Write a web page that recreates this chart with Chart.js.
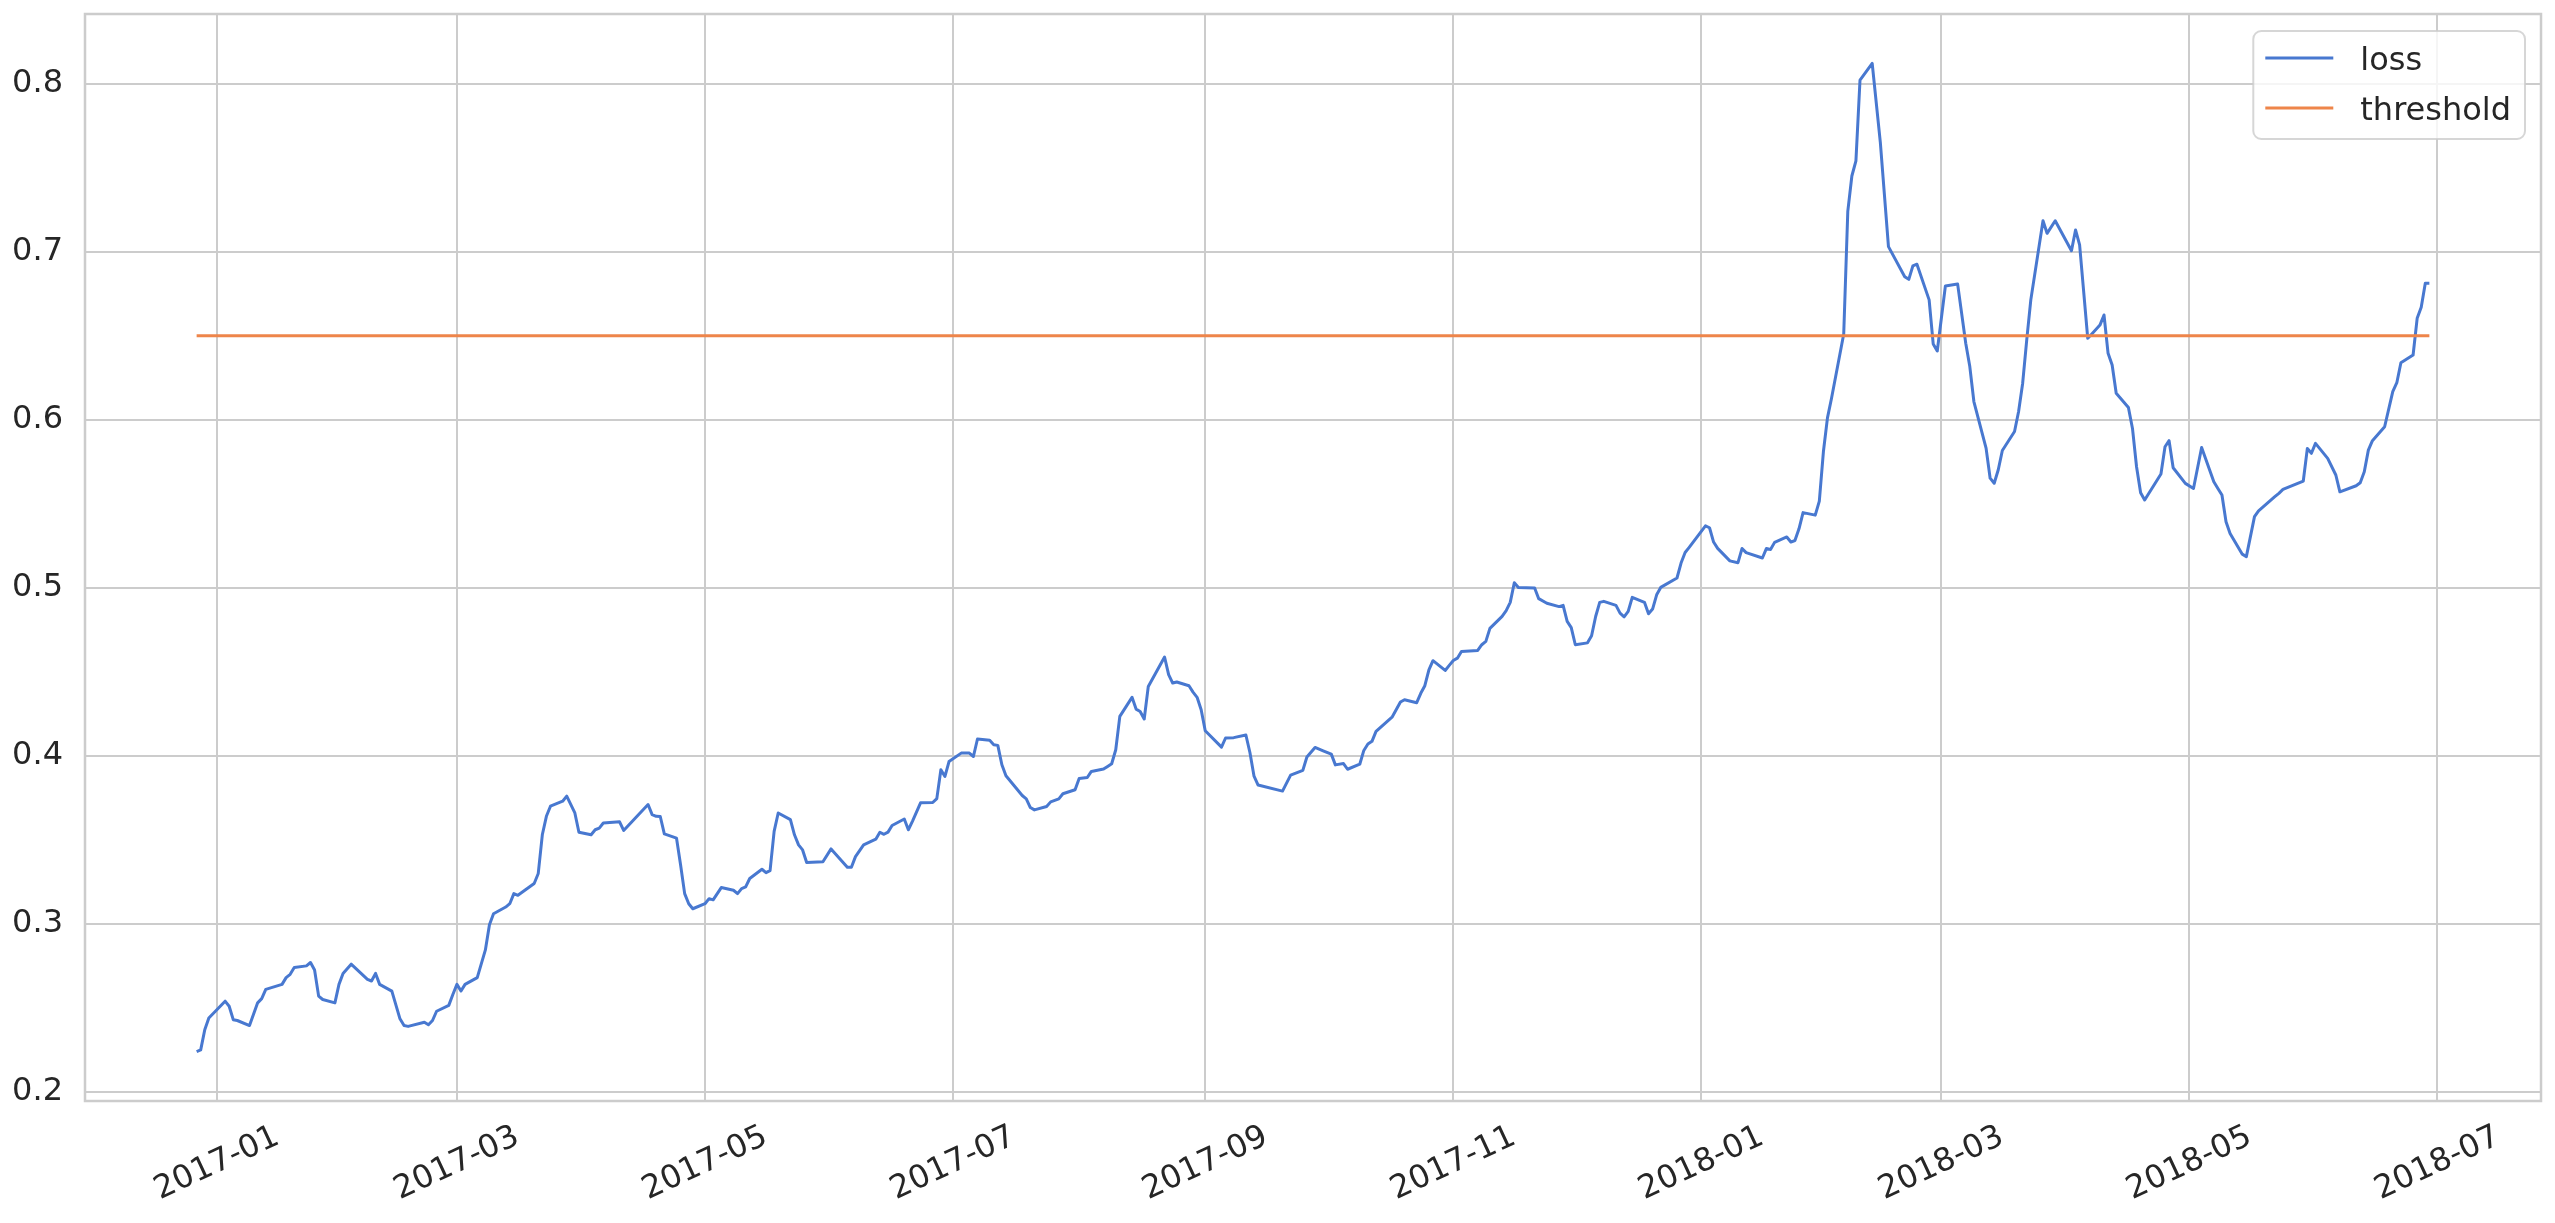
<!DOCTYPE html>
<html>
<head>
<meta charset="utf-8">
<script src="https://cdn.jsdelivr.net/npm/chart.js@4.4.1/dist/chart.umd.min.js"></script>
<style>
html,body{margin:0;padding:0;background:#ffffff;overflow:hidden}
canvas{display:block}
</style>
</head>
<body>
<canvas id="c" width="2555" height="1223" style="width:2555px;height:1223px"></canvas>
<script>
// ---- data ----
const dates = [
'2016-12-27','2016-12-28','2016-12-29','2016-12-30',
'2017-01-03','2017-01-04','2017-01-05','2017-01-06','2017-01-09','2017-01-11','2017-01-12','2017-01-13','2017-01-17','2017-01-18','2017-01-19','2017-01-20','2017-01-23','2017-01-24','2017-01-25','2017-01-26','2017-01-27','2017-01-30','2017-01-31',
'2017-02-01','2017-02-03','2017-02-07','2017-02-08','2017-02-09','2017-02-10','2017-02-13','2017-02-15','2017-02-16','2017-02-17','2017-02-21','2017-02-22','2017-02-23','2017-02-24','2017-02-27','2017-02-28',
'2017-03-01','2017-03-02','2017-03-03','2017-03-06','2017-03-08','2017-03-09','2017-03-10','2017-03-13','2017-03-14','2017-03-15','2017-03-16','2017-03-20','2017-03-21','2017-03-22','2017-03-23','2017-03-24','2017-03-27','2017-03-28','2017-03-30','2017-03-31',
'2017-04-03','2017-04-04','2017-04-05','2017-04-06','2017-04-10','2017-04-11','2017-04-17','2017-04-18','2017-04-19','2017-04-20','2017-04-21','2017-04-24','2017-04-25','2017-04-26','2017-04-27','2017-04-28',
'2017-05-01','2017-05-02','2017-05-03','2017-05-05','2017-05-08','2017-05-09','2017-05-10','2017-05-11','2017-05-12','2017-05-15','2017-05-16','2017-05-17','2017-05-18','2017-05-19','2017-05-22','2017-05-23','2017-05-24','2017-05-25','2017-05-26','2017-05-30',
'2017-06-01','2017-06-05','2017-06-06','2017-06-07','2017-06-09','2017-06-12','2017-06-13','2017-06-14','2017-06-15','2017-06-16','2017-06-19','2017-06-20','2017-06-21','2017-06-23','2017-06-26','2017-06-27','2017-06-28','2017-06-29','2017-06-30',
'2017-07-03','2017-07-05','2017-07-06','2017-07-07','2017-07-10','2017-07-11','2017-07-12','2017-07-13','2017-07-14','2017-07-18','2017-07-19','2017-07-20','2017-07-21','2017-07-24','2017-07-25','2017-07-27','2017-07-28','2017-07-31',
'2017-08-01','2017-08-03','2017-08-04','2017-08-07','2017-08-08','2017-08-09','2017-08-10','2017-08-11','2017-08-14','2017-08-15','2017-08-16','2017-08-17','2017-08-18','2017-08-22','2017-08-23','2017-08-24','2017-08-25','2017-08-28','2017-08-29','2017-08-30','2017-08-31',
'2017-09-01','2017-09-05','2017-09-06','2017-09-08','2017-09-11','2017-09-12','2017-09-13','2017-09-14','2017-09-20','2017-09-22','2017-09-25','2017-09-26','2017-09-28','2017-09-30',
'2017-10-02','2017-10-03','2017-10-05','2017-10-06','2017-10-09','2017-10-10','2017-10-11','2017-10-12','2017-10-13','2017-10-17','2017-10-19','2017-10-20','2017-10-23','2017-10-24','2017-10-25','2017-10-26','2017-10-27','2017-10-30','2017-10-31',
'2017-11-01','2017-11-02','2017-11-03','2017-11-07','2017-11-08','2017-11-09','2017-11-10','2017-11-13','2017-11-14','2017-11-15','2017-11-16','2017-11-17','2017-11-21','2017-11-22','2017-11-24','2017-11-27','2017-11-28','2017-11-29','2017-11-30',
'2017-12-01','2017-12-04','2017-12-05','2017-12-06','2017-12-07','2017-12-08','2017-12-11','2017-12-12','2017-12-13','2017-12-14','2017-12-15','2017-12-18','2017-12-19','2017-12-20','2017-12-21','2017-12-22','2017-12-26','2017-12-27','2017-12-28','2017-12-29',
'2018-01-02','2018-01-03','2018-01-04','2018-01-05','2018-01-08','2018-01-10','2018-01-11','2018-01-12','2018-01-16','2018-01-17','2018-01-18','2018-01-19','2018-01-22','2018-01-23','2018-01-24','2018-01-25','2018-01-26','2018-01-29','2018-01-30','2018-01-31',
'2018-02-01','2018-02-02','2018-02-05','2018-02-06','2018-02-07','2018-02-08','2018-02-09','2018-02-12','2018-02-14','2018-02-16','2018-02-20','2018-02-21','2018-02-22','2018-02-23','2018-02-26','2018-02-27','2018-02-28',
'2018-03-02','2018-03-05','2018-03-07','2018-03-08','2018-03-09','2018-03-12','2018-03-13','2018-03-14','2018-03-15','2018-03-16','2018-03-19','2018-03-20','2018-03-21','2018-03-22','2018-03-23','2018-03-26','2018-03-27','2018-03-29',
'2018-04-02','2018-04-03','2018-04-04','2018-04-06','2018-04-07','2018-04-09','2018-04-10','2018-04-11','2018-04-12','2018-04-13','2018-04-16','2018-04-17','2018-04-18','2018-04-19','2018-04-20','2018-04-24','2018-04-25','2018-04-26','2018-04-27','2018-04-30',
'2018-05-02','2018-05-04','2018-05-07','2018-05-08','2018-05-09','2018-05-10','2018-05-11','2018-05-14','2018-05-15','2018-05-17','2018-05-18','2018-05-22','2018-05-23','2018-05-24','2018-05-29','2018-05-30','2018-05-31',
'2018-06-01','2018-06-04','2018-06-06','2018-06-07','2018-06-11','2018-06-12','2018-06-13','2018-06-14','2018-06-15','2018-06-18','2018-06-20','2018-06-21','2018-06-22','2018-06-25','2018-06-26','2018-06-27','2018-06-28','2018-06-29'
];
const loss = [
.224,.225,.237,.244,
.254,.251,.243,.2425,.2395,.253,.2555,.261,.264,.268,.270,.274,.275,.277,.2725,.257,.255,.253,.264,
.2705,.276,.267,.266,.2705,.264,.260,.2435,.2395,.239,.2415,.240,.2425,.248,.2515,.258,
.264,.260,.264,.268,.2845,.2995,.306,.310,.312,.318,.317,.324,.330,.353,.364,.370,.373,.376,.366,.3545,
.353,.356,.357,.360,.3607,.3556,.371,.365,.364,.3639,.3535,.351,.335,.318,.312,.309,
.312,.315,.3143,.3216,.320,.318,.321,.322,.327,.3325,.3305,.3317,.355,.366,.362,.353,.347,.344,.3365,.337,
.3446,.3337,.3337,.340,.347,.3504,.3545,.3533,.3546,.3585,.3624,.356,.361,.372,.3722,.3745,.3917,.3877,.3966,
.4016,.4016,.3996,.410,.4092,.4066,.4062,.3947,.3881,.3764,.3744,.3692,.3678,.3698,.3726,.3744,.3774,.3798,
.3865,.3871,.3907,.3921,.3937,.3953,.4036,.4235,.4348,.4278,.4264,.4219,.4413,.4588,.4483,.4433,.4439,.4417,.4379,.4348,.4274,
.4149,.4052,.4106,.4108,.4124,.4018,.3879,.3826,.379,.3885,.3913,.3993,.405,.403,
.401,.3946,.3954,.392,.395,.4032,.407,.4086,.4145,.4232,.432,.4334,.4316,.4372,.4417,.4512,.4566,.4508,.4538,
.4567,.4581,.4621,.4627,.4661,.4681,.4758,.483,.4864,.4913,.503,.5002,.4999,.4935,.4908,.4888,.4895,.480,.4763,
.4661,.4672,.4714,.4829,.4913,.4919,.4895,.4849,.4827,.4859,.4943,.4913,.4845,.4873,.4958,.5002,.5058,.5147,.521,.524,
.5368,.5357,.5272,.5234,.516,.5149,.5234,.5209,.5177,.5234,.5228,.527,.5302,.5272,.5281,.5351,.5447,.5432,.5515,.5809,
.6011,.6128,.651,.724,.745,.754,.802,.812,.765,.703,.6851,.6835,.6915,.6925,.6713,.6451,.6409,
.6796,.6808,.6455,.6316,.6108,.5831,.5652,.5622,.5702,.5817,.593,.6049,.6217,.6475,.6713,.7184,.7109,.7184,
.7005,.7129,.704,.6484,.651,.6563,.6623,.6395,.6325,.6157,.6073,.5948,.572,.5565,.5522,.5677,.5839,.5875,.5714,.5621,
.5591,.5835,.5631,.5591,.5552,.5393,.5323,.520,.5185,.5423,.5458,.5542,.5562,.5585,.5635,.5829,.580,
.5859,.577,.5671,.5571,.5607,.5625,.569,.5819,.5875,.5958,.6167,.622,.6339,.6385,.6603,.6669,.6812,.6812
];
const thresholdValue = 0.65;
const seriesNames = ['loss', 'threshold'];
const seriesColors = ['#4878d0', '#ee854a'];
const xTickLabels = ['2017-01','2017-03','2017-05','2017-07','2017-09','2017-11','2018-01','2018-03','2018-05','2018-07'];
const yTickValues = [0.2, 0.3, 0.4, 0.5, 0.6, 0.7, 0.8];

// ---- helpers ----
const DAY = 86400000;
const ORIGIN = Date.UTC(2017, 0, 1);
function toDay(s) {
  const p = s.split('-').map(Number);
  return (Date.UTC(p[0], p[1] - 1, p[2] || 1) - ORIGIN) / DAY;
}
const xs = dates.map(toDay);
const threshold = dates.map(() => thresholdValue);
const xFirst = xs[0], xLast = xs[xs.length - 1];
const xSpan = xLast - xFirst;
const xMin = xFirst - 0.05 * xSpan, xMax = xLast + 0.05 * xSpan;
const allY = loss.concat(threshold);
const yLo = Math.min.apply(null, allY), yHi = Math.max.apply(null, allY);
const yMin = yLo - 0.05 * (yHi - yLo), yMax = yHi + 0.05 * (yHi - yLo);

const FONT = '"DejaVu Sans", "Liberation Sans", sans-serif';
const FS = 32;
const TEXT = '#262626';
const GRID = '#cccccc';
const ROT = 25;

// centre rotated labels under their tick (Chart.js anchors them at their right end)
const mctx = document.createElement('canvas').getContext('2d');
mctx.font = FS + 'px ' + FONT;
const labelW = mctx.measureText(xTickLabels[0]).width;
const labelOffset = labelW / 2 * Math.cos(ROT * Math.PI / 180);

const framePlugin = {
  id: 'frame',
  afterDatasetsDraw(chart) {
    const {ctx, chartArea: a} = chart;
    ctx.save();
    ctx.strokeStyle = GRID;
    ctx.lineWidth = 2.5;
    ctx.strokeRect(a.left, a.top, a.right - a.left, a.bottom - a.top);
    ctx.restore();
  }
};

const legendPlugin = {
  id: 'boxLegend',
  afterDraw(chart) {
    const {ctx, chartArea: a} = chart;
    const ds = chart.data.datasets;
    ctx.save();
    ctx.font = FS + 'px ' + FONT;
    const tw = Math.max.apply(null, ds.map(d => ctx.measureText(d.label).width));
    const padL = 12, handle = 68, gap = 27, padR = 14, rowH = 50;
    const w = padL + handle + gap + tw + padR;
    const h = 108;
    const x = a.right - 16 - w, y = a.top + 17;
    ctx.beginPath();
    if (ctx.roundRect) ctx.roundRect(x, y, w, h, 8); else ctx.rect(x, y, w, h);
    ctx.fillStyle = 'rgba(255,255,255,0.8)';
    ctx.fill();
    ctx.strokeStyle = 'rgba(204,204,204,0.8)';
    ctx.lineWidth = 2;
    ctx.stroke();
    ds.forEach((d, i) => {
      const ry = y + 27 + i * rowH;
      ctx.beginPath();
      ctx.moveTo(x + padL, ry);
      ctx.lineTo(x + padL + handle, ry);
      ctx.strokeStyle = d.borderColor;
      ctx.lineWidth = 3;
      ctx.stroke();
      ctx.fillStyle = TEXT;
      ctx.textBaseline = 'alphabetic';
      ctx.textAlign = 'left';
      ctx.fillText(d.label, x + padL + handle + gap, ry + 12);
    });
    ctx.restore();
  }
};

new Chart(document.getElementById('c'), {
  type: 'line',
  data: {
    datasets: [
      {
        label: seriesNames[0],
        data: xs.map((x, i) => ({x: x, y: loss[i]})),
        borderColor: seriesColors[0],
        backgroundColor: seriesColors[0],
        borderWidth: 3,
        pointRadius: 0,
        tension: 0,
        fill: false,
        borderJoinStyle: 'round',
        order: 2
      },
      {
        label: seriesNames[1],
        data: xs.map((x, i) => ({x: x, y: threshold[i]})),
        borderColor: seriesColors[1],
        backgroundColor: seriesColors[1],
        borderWidth: 3,
        pointRadius: 0,
        tension: 0,
        fill: false,
        order: 1
      }
    ]
  },
  options: {
    responsive: false,
    maintainAspectRatio: false,
    devicePixelRatio: 1,
    animation: false,
    parsing: true,
    layout: {padding: {top: 14, right: 14, left: 0, bottom: 0}},
    plugins: {
      legend: {display: false},
      tooltip: {enabled: false}
    },
    scales: {
      x: {
        type: 'linear',
        min: xMin,
        max: xMax,
        afterBuildTicks: s => { s.ticks = xTickLabels.map(l => ({value: toDay(l + '-01')})); },
        afterFit: s => { s.height = 122; s.paddingLeft = 0; s.paddingRight = 0; },
        ticks: {
          autoSkip: false,
          minRotation: ROT,
          maxRotation: ROT,
          labelOffset: labelOffset,
          padding: 17,
          color: TEXT,
          font: {size: FS, family: FONT},
          callback: (v, i) => xTickLabels[i]
        },
        grid: {color: GRID, lineWidth: 2, drawTicks: false},
        border: {display: false}
      },
      y: {
        type: 'linear',
        min: yMin,
        max: yMax,
        afterBuildTicks: s => { s.ticks = yTickValues.map(v => ({value: v})); },
        afterFit: s => { s.width = 85; s.paddingTop = 0; s.paddingBottom = 0; },
        ticks: {
          padding: 22,
          color: TEXT,
          font: {size: FS, family: FONT},
          callback: v => Number(v).toFixed(1)
        },
        grid: {color: GRID, lineWidth: 2, drawTicks: false},
        border: {display: false}
      }
    }
  },
  plugins: [framePlugin, legendPlugin]
});
</script>
</body>
</html>
